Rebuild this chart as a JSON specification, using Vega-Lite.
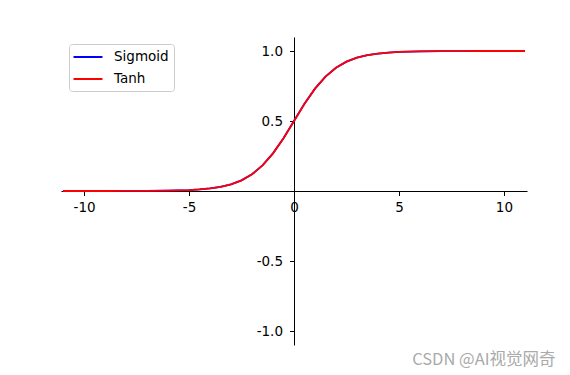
{
  "$schema": "https://vega.github.io/schema/vega-lite/v6.json",
  "width": 466,
  "height": 308,
  "padding": {"left": 59, "top": 37, "right": 5, "bottom": 5},
  "background": "white",
  "title": {
    "text": "CSDN @AI视觉网奇",
    "orient": "bottom",
    "anchor": "end",
    "offset": 7,
    "dx": 27,
    "font": "Noto Sans CJK SC",
    "fontSize": 16.5,
    "fontWeight": "normal",
    "color": "#aaaaaa"
  },
  "config": {
    "view": {"stroke": null},
    "font": "DejaVu Sans"
  },
  "data": {
    "values": [
      {"x": -11, "y": 0.0000167, "series": "Sigmoid"},
      {"x": -10, "y": 0.0000454, "series": "Sigmoid"},
      {"x": -9, "y": 0.000123, "series": "Sigmoid"},
      {"x": -8, "y": 0.000335, "series": "Sigmoid"},
      {"x": -7, "y": 0.000911, "series": "Sigmoid"},
      {"x": -6, "y": 0.00247, "series": "Sigmoid"},
      {"x": -5, "y": 0.00669, "series": "Sigmoid"},
      {"x": -4.5, "y": 0.011, "series": "Sigmoid"},
      {"x": -4, "y": 0.018, "series": "Sigmoid"},
      {"x": -3.5, "y": 0.0293, "series": "Sigmoid"},
      {"x": -3, "y": 0.0474, "series": "Sigmoid"},
      {"x": -2.5, "y": 0.0759, "series": "Sigmoid"},
      {"x": -2, "y": 0.1192, "series": "Sigmoid"},
      {"x": -1.5, "y": 0.1824, "series": "Sigmoid"},
      {"x": -1, "y": 0.2689, "series": "Sigmoid"},
      {"x": -0.5, "y": 0.3775, "series": "Sigmoid"},
      {"x": 0, "y": 0.5, "series": "Sigmoid"},
      {"x": 0.5, "y": 0.6225, "series": "Sigmoid"},
      {"x": 1, "y": 0.7311, "series": "Sigmoid"},
      {"x": 1.5, "y": 0.8176, "series": "Sigmoid"},
      {"x": 2, "y": 0.8808, "series": "Sigmoid"},
      {"x": 2.5, "y": 0.9241, "series": "Sigmoid"},
      {"x": 3, "y": 0.9526, "series": "Sigmoid"},
      {"x": 3.5, "y": 0.9707, "series": "Sigmoid"},
      {"x": 4, "y": 0.982, "series": "Sigmoid"},
      {"x": 4.5, "y": 0.989, "series": "Sigmoid"},
      {"x": 5, "y": 0.9933, "series": "Sigmoid"},
      {"x": 6, "y": 0.9975, "series": "Sigmoid"},
      {"x": 7, "y": 0.9991, "series": "Sigmoid"},
      {"x": 8, "y": 0.99966, "series": "Sigmoid"},
      {"x": 9, "y": 0.99988, "series": "Sigmoid"},
      {"x": 10, "y": 0.99995, "series": "Sigmoid"},
      {"x": 11, "y": 0.99998, "series": "Sigmoid"},
      {"x": -11, "y": 0.0000167, "series": "Tanh"},
      {"x": -10, "y": 0.0000454, "series": "Tanh"},
      {"x": -9, "y": 0.000123, "series": "Tanh"},
      {"x": -8, "y": 0.000335, "series": "Tanh"},
      {"x": -7, "y": 0.000911, "series": "Tanh"},
      {"x": -6, "y": 0.00247, "series": "Tanh"},
      {"x": -5, "y": 0.00669, "series": "Tanh"},
      {"x": -4.5, "y": 0.011, "series": "Tanh"},
      {"x": -4, "y": 0.018, "series": "Tanh"},
      {"x": -3.5, "y": 0.0293, "series": "Tanh"},
      {"x": -3, "y": 0.0474, "series": "Tanh"},
      {"x": -2.5, "y": 0.0759, "series": "Tanh"},
      {"x": -2, "y": 0.1192, "series": "Tanh"},
      {"x": -1.5, "y": 0.1824, "series": "Tanh"},
      {"x": -1, "y": 0.2689, "series": "Tanh"},
      {"x": -0.5, "y": 0.3775, "series": "Tanh"},
      {"x": 0, "y": 0.5, "series": "Tanh"},
      {"x": 0.5, "y": 0.6225, "series": "Tanh"},
      {"x": 1, "y": 0.7311, "series": "Tanh"},
      {"x": 1.5, "y": 0.8176, "series": "Tanh"},
      {"x": 2, "y": 0.8808, "series": "Tanh"},
      {"x": 2.5, "y": 0.9241, "series": "Tanh"},
      {"x": 3, "y": 0.9526, "series": "Tanh"},
      {"x": 3.5, "y": 0.9707, "series": "Tanh"},
      {"x": 4, "y": 0.982, "series": "Tanh"},
      {"x": 4.5, "y": 0.989, "series": "Tanh"},
      {"x": 5, "y": 0.9933, "series": "Tanh"},
      {"x": 6, "y": 0.9975, "series": "Tanh"},
      {"x": 7, "y": 0.9991, "series": "Tanh"},
      {"x": 8, "y": 0.99966, "series": "Tanh"},
      {"x": 9, "y": 0.99988, "series": "Tanh"},
      {"x": 10, "y": 0.99995, "series": "Tanh"},
      {"x": 11, "y": 0.99998, "series": "Tanh"}
    ]
  },
  "mark": {"type": "line", "strokeWidth": 1.8, "clip": false},
  "encoding": {
    "x": {
      "field": "x",
      "type": "quantitative",
      "scale": {"domain": [-11.1, 11.1], "nice": false, "zero": false},
      "axis": {
        "title": null,
        "grid": false,
        "offset": -154,
        "values": [-10, -5, 0, 5, 10],
        "labelExpr": "datum.value < 0 ? '-' + format(-datum.value, 'd') : format(datum.value, 'd')",
        "domainColor": "black",
        "domainWidth": 1,
        "tickColor": "black",
        "tickWidth": 1,
        "tickSize": 4.5,
        "labelPadding": 5,
        "labelFontSize": 13.5,
        "labelColor": "black",
        "labelFont": "DejaVu Sans"
      }
    },
    "y": {
      "field": "y",
      "type": "quantitative",
      "scale": {"domain": [-1.1, 1.1], "nice": false, "zero": false},
      "axis": {
        "title": null,
        "grid": false,
        "offset": -233,
        "values": [-1, -0.5, 0.5, 1],
        "labelExpr": "datum.value < 0 ? '-' + format(-datum.value, '.1f') : format(datum.value, '.1f')",
        "domainColor": "black",
        "domainWidth": 1,
        "tickColor": "black",
        "tickWidth": 1,
        "tickSize": 4.5,
        "labelPadding": 7,
        "labelFontSize": 13.5,
        "labelColor": "black",
        "labelFont": "DejaVu Sans"
      }
    },
    "color": {
      "field": "series",
      "type": "nominal",
      "scale": {"domain": ["Sigmoid", "Tanh"], "range": ["blue", "red"]},
      "legend": {
        "title": null,
        "orient": "none",
        "legendX": 8,
        "legendY": 7,
        "symbolType": "M-2.07,0L2.07,0",
        "symbolSize": 196,
        "symbolStrokeWidth": 2,
        "symbolOffset": 6,
        "labelFontSize": 13.5,
        "labelFont": "DejaVu Sans",
        "labelColor": "black",
        "labelOffset": 18,
        "padding": 5,
        "rowPadding": 7,
        "strokeColor": "#cccccc",
        "fillColor": "white",
        "cornerRadius": 3
      }
    }
  }
}
